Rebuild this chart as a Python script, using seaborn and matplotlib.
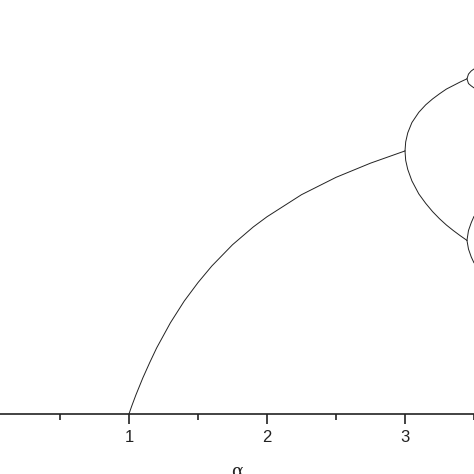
import matplotlib
matplotlib.use("Agg")
import matplotlib.pyplot as plt
import seaborn as sns
import pandas as pd

# values
fixed_alpha = [1.0, 1.02, 1.05, 1.1, 1.15, 1.2, 1.3, 1.4, 1.5, 1.6, 1.75, 1.9, 2.0,
               2.25, 2.5, 2.75, 3.0]
fixed_x = [0.0, 0.020, 0.048, 0.091, 0.130, 0.167, 0.231, 0.286, 0.333, 0.375,
           0.429, 0.474, 0.500, 0.556, 0.600, 0.636, 0.667]

p2_alpha = [3.0, 3.005, 3.02, 3.05, 3.1, 3.15, 3.2, 3.25, 3.3, 3.35, 3.4, 3.449]
p2_upper = [0.667, 0.690, 0.713, 0.739, 0.765, 0.784, 0.799, 0.812, 0.824, 0.833,
            0.842, 0.850]
p2_lower = [0.667, 0.643, 0.620, 0.591, 0.558, 0.534, 0.513, 0.495, 0.479, 0.465,
            0.452, 0.440]

p4_alpha = [3.449, 3.46, 3.48, 3.5]
p4_a = [0.850, 0.862, 0.870, 0.875]
p4_b = [0.850, 0.838, 0.832, 0.827]
p4_c = [0.440, 0.465, 0.485, 0.501]
p4_d = [0.440, 0.418, 0.398, 0.383]

branches = [
    (fixed_alpha, fixed_x),
    (p2_alpha, p2_upper),
    (p2_alpha, p2_lower),
    (p4_alpha, p4_a),
    (p4_alpha, p4_b),
    (p4_alpha, p4_c),
    (p4_alpha, p4_d),
]

sns.set_style("ticks")
plt.rcParams["font.family"] = ["Liberation Sans", "DejaVu Sans"]
fig = plt.figure(figsize=(4.74, 4.74), dpi=100)
ax = fig.add_axes([0.0, 0.127, 1.0, 0.873])

for a, x in branches:
    df = pd.DataFrame({"alpha": a, "x": x})
    sns.lineplot(data=df, x="alpha", y="x", sort=False, color="#222222",
                 linewidth=0.7, ax=ax, estimator=None)

ax.set_xlim(0.065, 3.5)
ax.set_ylim(0, 1.05)
ax.set_xticks([1, 2, 3])
ax.set_xticks([0.5, 1.5, 2.5, 3.5], minor=True)
ax.tick_params(axis="x", which="major", direction="out", length=7, width=1.2,
               labelsize=12, pad=5, colors="#222222")
ax.tick_params(axis="x", which="minor", direction="out", length=4, width=1.2,
               colors="#222222")
ax.set_yticks([])
ax.set_ylabel("")
ax.set_xlabel("α", fontsize=13, family="DejaVu Serif", labelpad=12)
ax.spines["bottom"].set_linewidth(1.2)
ax.spines["bottom"].set_color("#222222")
for s in ["top", "left", "right"]:
    ax.spines[s].set_visible(False)

fig.savefig("out.png", dpi=100)
